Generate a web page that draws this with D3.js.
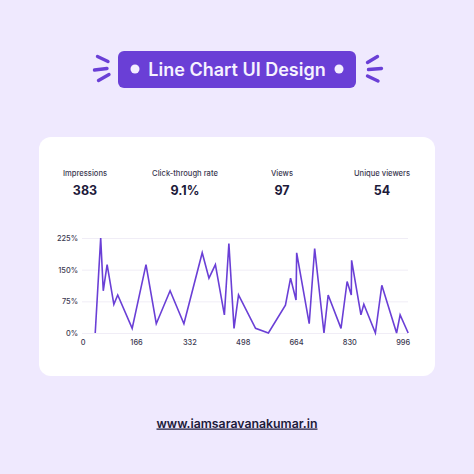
<!DOCTYPE html>
<html>
<head>
<meta charset="utf-8">
<script src="https://cdn.jsdelivr.net/npm/d3@7"></script>
<style>
  html, body { margin: 0; padding: 0; background: #efe9fe; }
  svg { display: block; }
  text { font-family: Inter, "Open Sans", sans-serif; }
</style>
</head>
<body>
<svg id="chart" width="474" height="474"></svg>
<script>
// values
const xValues = [39, 56, 64, 76, 97, 109, 154, 197, 229, 272, 315, 372, 393, 413, 441, 455, 471, 485,
  538, 578, 631, 647, 664, 666, 705, 722, 751, 764, 804, 823, 836, 837, 866, 875, 911, 931, 977, 988, 1013];
const yValues = [0, 225, 100, 162, 68, 90, 11, 162, 22, 100, 22, 190, 130, 162, 43, 212, 11, 90,
  11, 0, 66, 130, 78, 190, 22, 200, 0, 90, 11, 122, 90, 172, 43, 68, 0, 113, 0, 43, 0];
const xTicks = [0, 166, 332, 498, 664, 830, 996];
const yTicks = [0, 75, 150, 225];
const statNames = ["Impressions", "Click-through rate", "Views", "Unique viewers"];
const statValues = ["383", "9.1%", "97", "54"];
const statCenters = [85, 185, 282, 382];

const purple = "#6a3fd6";
const ink = "#1d1a3a";
const svg = d3.select("#chart");

svg.append("rect").attr("width", 474).attr("height", 474).attr("fill", "#efe9fe");

// title badge
svg.append("rect")
  .attr("x", 118).attr("y", 51).attr("width", 238).attr("height", 37).attr("rx", 6)
  .attr("fill", purple);
[135, 339].forEach(cx => {
  svg.append("circle").attr("cx", cx).attr("cy", 69).attr("r", 4.5).attr("fill", "#f3eeff");
});
svg.append("text")
  .attr("x", 237).attr("y", 75.5).attr("text-anchor", "middle")
  .attr("font-size", 18).attr("font-weight", 600).attr("fill", "#f6f2ff")
  .text("Line Chart UI Design");

// little spark strokes beside the badge
const sparks = ["M97.5 56.5L108 61.5", "M94.5 70L107 68.5", "M98.5 80.5L109 74.5",
  "M367.5 62.5L377.5 56.5", "M368.5 69.5L381.5 68.5", "M367.5 76L378 81"];
svg.selectAll(".spark").data(sparks).join("path")
  .attr("class", "spark")
  .attr("d", d => d)
  .attr("stroke", purple).attr("stroke-width", 3.4).attr("stroke-linecap", "round");

// card
svg.append("rect")
  .attr("x", 39).attr("y", 137).attr("width", 396).attr("height", 239).attr("rx", 12)
  .attr("fill", "#fff");

// stats row
statNames.forEach((name, i) => {
  svg.append("text")
    .attr("x", statCenters[i]).attr("y", 175.5).attr("text-anchor", "middle")
    .attr("font-size", 7.6).attr("font-weight", 500).attr("fill", "#3b3850")
    .text(name);
  svg.append("text")
    .attr("x", statCenters[i]).attr("y", 195).attr("text-anchor", "middle")
    .attr("font-size", 12.5).attr("font-weight", 700).attr("fill", ink)
    .text(statValues[i]);
});

// scales
const x = d3.scaleLinear().domain([0, 996]).range([82.7, 402.7]);
const y = d3.scaleLinear().domain([0, 225]).range([333, 238]);

// grid + y labels
const yAxis = svg.append("g")
  .attr("transform", "translate(82,0)")
  .call(d3.axisLeft(y).tickValues(yTicks).tickSize(-326).tickPadding(4).tickFormat(d => d + "%"));
yAxis.select(".domain").remove();
yAxis.selectAll("line").attr("stroke", "#f0edf6");
yAxis.selectAll("text").attr("font-size", 7.4).attr("font-weight", 500).attr("fill", "#3b3850").attr("x", -4);

// x labels
const xAxis = svg.append("g")
  .attr("transform", "translate(0,333)")
  .call(d3.axisBottom(x).tickValues(xTicks).tickSize(0).tickPadding(7));
xAxis.select(".domain").remove();
xAxis.selectAll("text").attr("font-size", 7.4).attr("font-weight", 500).attr("fill", "#3b3850");

// the line
const line = d3.line().x((d, i) => x(d)).y((d, i) => y(yValues[i]));
svg.append("path")
  .attr("d", line(xValues))
  .attr("fill", "none")
  .attr("stroke", purple)
  .attr("stroke-width", 1.6)
  .attr("stroke-linejoin", "miter");

// footer
svg.append("text")
  .attr("x", 237).attr("y", 427.5).attr("text-anchor", "middle")
  .attr("font-size", 12.3).attr("font-weight", 600).attr("fill", ink)
  .attr("text-decoration", "underline")
  .text("www.iamsaravanakumar.in");
</script>
</body>
</html>
